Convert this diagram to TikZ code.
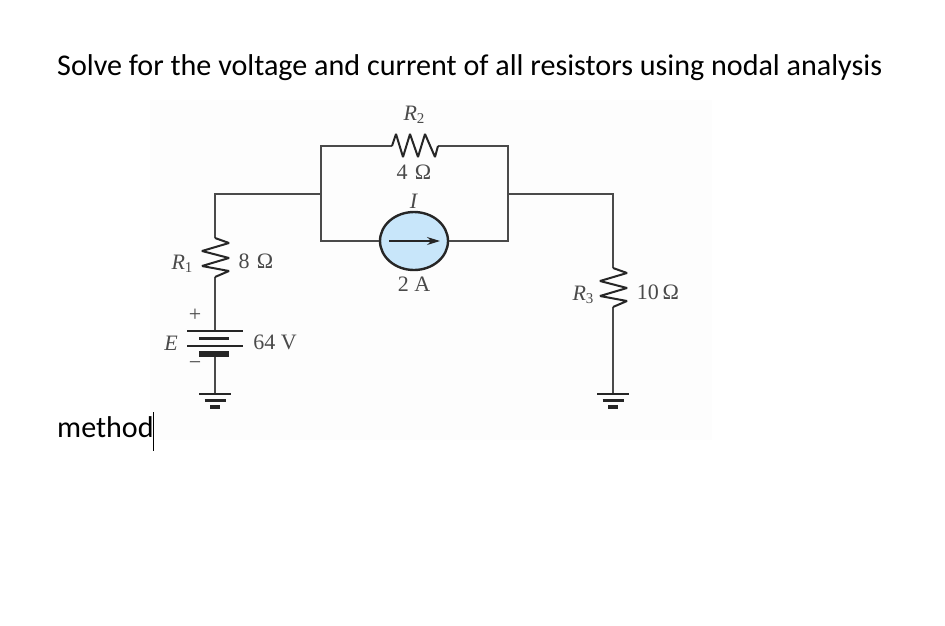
\documentclass[tikz,border=0pt]{standalone}
\usepackage{fontspec}
\setmainfont{Liberation Serif}
\newfontfamily\doc{Carlito}
\definecolor{ink}{HTML}{4A4A4A}
\definecolor{srcfill}{HTML}{C8E6FA}
\definecolor{paper}{HTML}{FDFDFD}
\usetikzlibrary{arrows.meta,shapes.geometric}
\tikzset{
  wire/.style={draw=ink,line width=1.2pt,line join=miter},
  heavy/.style={draw=black!85,line width=2.2pt},
  zig/.style={draw=black!85,line width=2pt,line join=bevel},
  doctext/.style={anchor=base west,inner sep=0pt,text=black,font=\doc\fontsize{30.1}{34}\selectfont},
  lab/.style={inner sep=0pt,text=ink,font=\fontsize{22}{26}\selectfont},
  pics/vres/.style={code={\draw[zig] (0,0)--(14,5)--(-13,13)--(14,20)--(-13,28)--(14,33)--(0,39);}},
  pics/gnd/.style={code={
    \draw[draw=black!85,line width=2.6pt] (-16,0)--(16,0);
    \draw[draw=black!85,line width=3pt] (-10.5,6.5)--(10.5,6.5);
    \draw[draw=black!85,line width=3.4pt] (-5,13)--(5,13);}},
}
\begin{document}
\begin{tikzpicture}[x=1pt,y=-1pt]
\useasboundingbox (0,0) rectangle (945,625);
\fill[white] (0,0) rectangle (945,625);
\fill[paper] (150,100) rectangle (712,440);
% text of the page
\node[doctext] (title) at (57,75) {Solve for the voltage and current of all resistors using nodal analysis};
\node[doctext] (method) at (57,437) {method};
\coordinate (curT) at (153,412);
\coordinate (curB) at (153,451);
\draw[black,line width=1pt] (curT)--(curB);
% junctions
\coordinate (a) at (215,194);
\coordinate (b) at (321,194);
\coordinate (c) at (321,146);
\coordinate (d) at (392,146);
\coordinate (e) at (438,146);
\coordinate (f) at (508,146);
\coordinate (g) at (508,194);
\coordinate (h) at (613,194);
\coordinate (i) at (321,241);
\coordinate (j) at (508,241);
\coordinate (r1t) at (215,238);
\coordinate (r1b) at (215,277);
\coordinate (r3t) at (613,268);
\coordinate (r3b) at (613,307);
\coordinate (batT) at (215,331);
\coordinate (batB) at (215,354);
\coordinate (gl) at (215,394);
\coordinate (gr) at (613,394);
% source
\node[ellipse,draw=black!85,line width=2.4pt,fill=srcfill,minimum width=68pt,minimum height=58pt,inner sep=0pt] (src) at (414,241) {};
\coordinate (arrL) at (389,241);
\coordinate (arrR) at (440,241);
\draw[draw=black!85,line width=1.2pt,-{Stealth[length=13pt,width=8pt]}] (arrL)--(arrR);
% wires
\draw[wire] (r1t)--(a)--(b);
\draw[wire] (d)--(c)--(i)--(src);
\draw[wire] (src)--(j)--(f)--(e);
\draw[wire] (g)--(h)--(r3t);
\draw[wire] (r1b)--(batT);
\draw[wire] (batB)--(gl);
\draw[wire] (r3b)--(gr);
% resistors
\pic at (r1t) {vres};
\pic at (r3t) {vres};
\draw[zig] (d)--(396,134)--(403,157)--(410,134)--(418,157)--(425,134)--(435,157)--(e);
% battery
\draw[heavy] (187,331)--(243,331);
\draw[draw=black!85,line width=3.8pt] (199,338.5)--(229,338.5);
\draw[heavy] (187,346)--(243,346);
\draw[draw=black!85,line width=5.2pt] (199,354)--(229,354);
% grounds
\pic at (gl) {gnd};
\pic at (gr) {gnd};
% labels
\node[lab] (lr2) at (414,115) {\textit{R}\raisebox{-3pt}{\fontsize{15}{17}\selectfont 2}};
\node[lab] (l4) at (414,172) {4\,\,Ω};
\node[lab] (li) at (414,201) {\textit{I}};
\node[lab] (l2a) at (414,284) {2 A};
\node[lab] (lr1) at (182,264) {\textit{R}\raisebox{-3pt}{\fontsize{15}{17}\selectfont 1}};
\node[lab] (l8) at (256,261) {8\,\,Ω};
\node[lab] (lp) at (195,315) {+};
\node[lab] (lE) at (171,343) {\textit{E}};
\node[lab] (l64) at (275,342) {64 V};
\node[lab] (lm) at (195,366) {−};
\node[lab] (lr3) at (583,295) {\textit{R}\raisebox{-3pt}{\fontsize{15}{17}\selectfont 3}};
\node[lab] (l10) at (658,292) {10\,Ω};
\end{tikzpicture}
\end{document}
